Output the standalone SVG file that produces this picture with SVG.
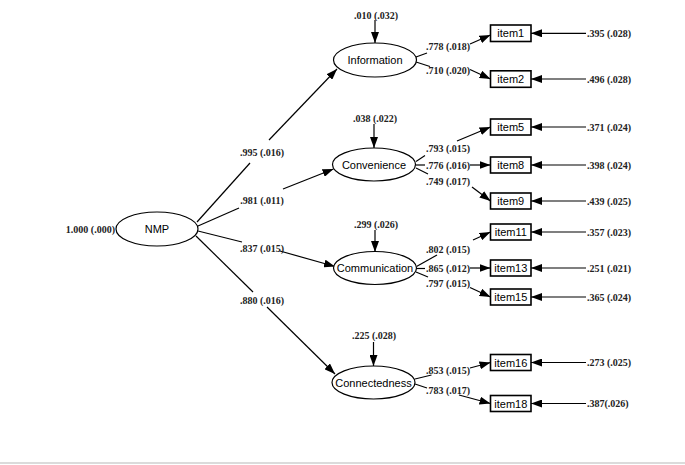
<svg xmlns="http://www.w3.org/2000/svg" width="685" height="465" viewBox="0 0 685 465">
<defs>
<marker id="ah" markerWidth="11" markerHeight="8" refX="11" refY="4" orient="auto" markerUnits="userSpaceOnUse">
<path d="M0,0 L11,4 L0,8 z" fill="#000"/>
</marker>
<style>
.ln{stroke:#000;stroke-width:1.2;fill:none}
.ar{stroke:#000;stroke-width:1.2;fill:none;marker-end:url(#ah)}
.el{fill:#fff;stroke:#000;stroke-width:1.2}
.bx{fill:#fff;stroke:#000;stroke-width:1.6}
.nt{font-family:"Liberation Sans",Arial,sans-serif;font-size:11px;fill:#000;text-anchor:middle}
.num{font-family:"Liberation Serif","Times New Roman",serif;font-size:10px;font-weight:bold;fill:#222}
.c{text-anchor:middle}
</style>
</defs>
<rect width="685" height="465" fill="#fff"/>
<line x1="0" y1="463" x2="685" y2="463" stroke="#cfcfcf" stroke-width="1.5"/>

<g id="connectors">
<line class="ln" x1="197" y1="222" x2="250" y2="163"/>
<line class="ar" x1="269" y1="140" x2="337" y2="69"/>
<line class="ln" x1="198" y1="226" x2="239" y2="208"/>
<line class="ar" x1="283" y1="189" x2="333.5" y2="169"/>
<line class="ln" x1="198" y1="231" x2="242" y2="242"/>
<line class="ar" x1="280" y1="251" x2="335" y2="266.5"/>
<line class="ln" x1="196" y1="236" x2="253" y2="292"/>
<line class="ar" x1="267" y1="307" x2="335" y2="374"/>
<line class="ar" x1="375" y1="20" x2="375" y2="43"/>
<line class="ar" x1="374" y1="124" x2="374" y2="148"/>
<line class="ar" x1="375" y1="230" x2="375" y2="252"/>
<line class="ar" x1="373.5" y1="342" x2="373.5" y2="366"/>
<line class="ln" x1="416" y1="57" x2="427" y2="53"/>
<line class="ar" x1="470" y1="44" x2="490.5" y2="35"/>
<line class="ln" x1="416" y1="62" x2="430" y2="66.5"/>
<line class="ar" x1="470" y1="69.5" x2="490.5" y2="79"/>
<line class="ln" x1="416" y1="161.5" x2="425" y2="155.5"/>
<line class="ar" x1="457" y1="141" x2="490.5" y2="127"/>
<line class="ln" x1="416" y1="165" x2="425" y2="165"/>
<line class="ar" x1="470" y1="165" x2="490.5" y2="165"/>
<line class="ln" x1="416" y1="168" x2="428" y2="174"/>
<line class="ar" x1="472" y1="187" x2="490.5" y2="201"/>
<line class="ln" x1="416.5" y1="266.5" x2="437" y2="255"/>
<line class="ar" x1="473" y1="240" x2="490.5" y2="232"/>
<line class="ln" x1="416.5" y1="268.5" x2="425" y2="268.5"/>
<line class="ar" x1="470" y1="268" x2="490.5" y2="268"/>
<line class="ln" x1="416" y1="272" x2="428" y2="277"/>
<line class="ar" x1="470" y1="287.5" x2="490.5" y2="297"/>
<line class="ln" x1="415" y1="379" x2="431.5" y2="375"/>
<line class="ar" x1="470" y1="368" x2="490.5" y2="362.5"/>
<line class="ln" x1="415" y1="384" x2="427" y2="388"/>
<line class="ar" x1="459" y1="395" x2="490.5" y2="403.5"/>
<line class="ar" x1="586" y1="33.3" x2="531" y2="33.3"/>
<line class="ar" x1="586" y1="79" x2="531" y2="79"/>
<line class="ar" x1="586" y1="127" x2="531" y2="127"/>
<line class="ar" x1="586" y1="165" x2="531" y2="165"/>
<line class="ar" x1="586" y1="201" x2="531" y2="201"/>
<line class="ar" x1="586" y1="232" x2="531" y2="232"/>
<line class="ar" x1="586" y1="268" x2="531" y2="268"/>
<line class="ar" x1="586" y1="297" x2="531" y2="297"/>
<line class="ar" x1="586" y1="362.5" x2="531" y2="362.5"/>
<line class="ar" x1="586" y1="403.5" x2="531" y2="403.5"/>
<text class="num c" x="262" y="156">.995 (.016)</text>
<text class="num c" x="262" y="203.5">.981 (.011)</text>
<text class="num c" x="262" y="252">.837 (.015)</text>
<text class="num c" x="262" y="303.5">.880 (.016)</text>
<text class="num c" x="448" y="50">.778 (.018)</text>
<text class="num c" x="448" y="74">.710 (.020)</text>
<text class="num c" x="448" y="152">.793 (.015)</text>
<text class="num c" x="448" y="168.5">.776 (.016)</text>
<text class="num c" x="448" y="185">.749 (.017)</text>
<text class="num c" x="448" y="253">.802 (.015)</text>
<text class="num c" x="448" y="272">.865 (.012)</text>
<text class="num c" x="448" y="287">.797 (.015)</text>
<text class="num c" x="448" y="373.5">.853 (.015)</text>
<text class="num c" x="448" y="393.5">.783 (.017)</text>
</g>

<g id="NMP">
<ellipse class="el" cx="157" cy="229" rx="41" ry="17"/>
<text class="nt" x="157" y="233">NMP</text>
<text class="num" x="115" y="232.5" text-anchor="end">1.000 (.000)</text>
</g>

<g id="Information">
<ellipse class="el" cx="375" cy="60" rx="41.5" ry="17"/>
<text class="nt" x="375" y="64">Information</text>
<text class="num c" x="376" y="18.5">.010 (.032)</text>
</g>
<g id="Convenience">
<ellipse class="el" cx="374" cy="164.5" rx="41.5" ry="16.5"/>
<text class="nt" x="374" y="168.5">Convenience</text>
<text class="num c" x="375" y="121.5">.038 (.022)</text>
</g>
<g id="Communication">
<ellipse class="el" cx="375" cy="268" rx="41.5" ry="16.5"/>
<text class="nt" x="375" y="272">Communication</text>
<text class="num c" x="376" y="227.5">.299 (.026)</text>
</g>
<g id="Connectedness">
<ellipse class="el" cx="373.5" cy="382.5" rx="41.5" ry="16.5"/>
<text class="nt" x="373.5" y="386.5">Connectedness</text>
<text class="num c" x="374" y="339">.225 (.028)</text>
</g>

<g id="item1"><rect class="bx" x="490.5" y="25" width="40.5" height="16.5"/><text class="nt" x="510.8" y="37.3">item1</text><text class="num" x="587" y="36.8">.395 (.028)</text></g>
<g id="item2"><rect class="bx" x="490.5" y="70.8" width="40.5" height="16.5"/><text class="nt" x="510.8" y="83">item2</text><text class="num" x="587" y="82.5">.496 (.028)</text></g>
<g id="item5"><rect class="bx" x="490.5" y="119" width="40.5" height="16"/><text class="nt" x="510.8" y="131">item5</text><text class="num" x="587" y="130.5">.371 (.024)</text></g>
<g id="item8"><rect class="bx" x="490.5" y="157" width="40.5" height="16"/><text class="nt" x="510.8" y="169">item8</text><text class="num" x="587" y="168.5">.398 (.024)</text></g>
<g id="item9"><rect class="bx" x="490.5" y="193" width="40.5" height="16"/><text class="nt" x="510.8" y="205">item9</text><text class="num" x="587" y="204.5">.439 (.025)</text></g>
<g id="item11"><rect class="bx" x="490.5" y="224" width="40.5" height="16"/><text class="nt" x="510.8" y="236">item11</text><text class="num" x="587" y="235.5">.357 (.023)</text></g>
<g id="item13"><rect class="bx" x="490.5" y="260" width="40.5" height="16"/><text class="nt" x="510.8" y="272">item13</text><text class="num" x="587" y="271.5">.251 (.021)</text></g>
<g id="item15"><rect class="bx" x="490.5" y="289" width="40.5" height="16"/><text class="nt" x="510.8" y="301">item15</text><text class="num" x="587" y="300.5">.365 (.024)</text></g>
<g id="item16"><rect class="bx" x="490.5" y="354.5" width="40.5" height="16"/><text class="nt" x="510.8" y="366.5">item16</text><text class="num" x="587" y="366">.273 (.025)</text></g>
<g id="item18"><rect class="bx" x="490.5" y="395.5" width="40.5" height="16"/><text class="nt" x="510.8" y="407.5">item18</text><text class="num" x="587" y="407">.387(.026)</text></g>
</svg>
